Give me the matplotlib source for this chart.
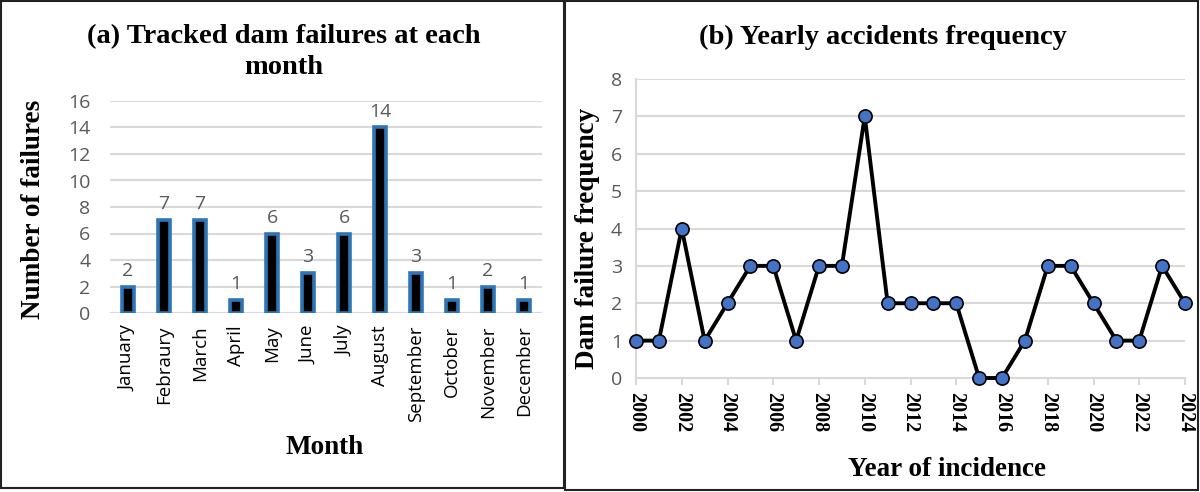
import matplotlib
matplotlib.use("Agg")
import matplotlib.pyplot as plt
from matplotlib.patches import Rectangle

months = ["January", "Febraury", "March", "April", "May", "June", "July",
          "August", "September", "October", "November", "December"]
month_failures = [2, 7, 7, 1, 6, 3, 6, 14, 3, 1, 2, 1]

years = list(range(2000, 2025))
yearly_freq = [1, 1, 4, 1, 2, 3, 3, 1, 3, 3, 7, 2, 2, 2, 2, 0, 0, 1, 3, 3, 2, 1, 1, 3, 2]
year_ticks = list(range(2000, 2025, 2))

W, H = 1200, 492
fig = plt.figure(figsize=(12, 4.92), dpi=100)
fig.patch.set_facecolor("white")

serif = ["Liberation Serif", "DejaVu Serif"]
sans = ["Open Sans", "DejaVu Sans"]
gray_txt = "#595959"
grid_c = "#d9d9d9"

def fx(px):
    return px / W

def fy(py):
    return 1 - py / H

# Panel borders
fig.add_artist(Rectangle((fx(1), fy(488)), fx(564) - fx(1), fy(1) - fy(488),
                         transform=fig.transFigure, fill=False, edgecolor="#222222", lw=1.5))
fig.add_artist(Rectangle((fx(565), fy(490)), fx(1198) - fx(565), fy(1) - fy(490),
                         transform=fig.transFigure, fill=False, edgecolor="#222222", lw=1.5))

# ---- Left panel: bar chart ----
ax1 = fig.add_axes([fx(110), fy(313), fx(542) - fx(110), fy(101) - fy(313)])
x = list(range(len(months)))
ax1.bar(x, month_failures, width=0.36, color="black", edgecolor="#2E75B6",
        linewidth=2.6, zorder=3)
ax1.set_xlim(-0.5, 11.5)
ax1.set_ylim(0, 16)
ax1.set_yticks(range(0, 17, 2))
ax1.yaxis.grid(True, color=grid_c, lw=1.5, zorder=0)
for s in ax1.spines.values():
    s.set_visible(False)
ax1.axhline(0, color=grid_c, lw=1.5, zorder=1)
ax1.tick_params(axis="both", length=0)
ax1.set_yticklabels([str(v) for v in range(0, 17, 2)], family=sans, fontsize=14, color=gray_txt)
ax1.tick_params(axis="y", pad=14)
ax1.set_xticks(x)
ax1.set_xticklabels(months, rotation=90, family=sans, fontsize=13.5, color="black",
                    fontweight="medium")
ax1.tick_params(axis="x", pad=9)
for xi, v in zip(x, month_failures):
    ax1.annotate(str(v), (xi, v), xytext=(0, 5), textcoords="offset points",
                 ha="center", va="bottom", family=sans, fontsize=14, color=gray_txt)
fig.text(fx(284), fy(37), "(a) Tracked dam failures at each", ha="center", va="center",
         family=serif, fontsize=20.5, fontweight="bold")
fig.text(fx(284), fy(67), "month", ha="center", va="center",
         family=serif, fontsize=20.5, fontweight="bold")
fig.text(fx(34), fy(209), "Number of failures", rotation=90, ha="center", va="center",
         family=serif, fontsize=19.5, fontweight="bold")
fig.text(fx(325), fy(448), "Month", ha="center", va="center",
         family=serif, fontsize=19.5, fontweight="bold")

# ---- Right panel: line chart ----
ax2 = fig.add_axes([fx(636), fy(378), fx(1185) - fx(636), fy(79) - fy(378)])
ax2.plot(years, yearly_freq, color="black", lw=2.8, marker="o", markersize=9.5,
         markerfacecolor="#4472C4", markeredgecolor="black", markeredgewidth=1.2,
         zorder=3, clip_on=False)
ax2.set_xlim(2000, 2024)
ax2.set_ylim(0, 8)
ax2.set_yticks(range(0, 9))
ax2.yaxis.grid(True, color=grid_c, lw=1.5, zorder=0)
ax2.spines["top"].set_visible(False)
ax2.spines["right"].set_visible(False)
ax2.spines["left"].set_color(grid_c)
ax2.spines["bottom"].set_color(grid_c)
ax2.spines["left"].set_linewidth(1.5)
ax2.spines["bottom"].set_linewidth(1.5)
ax2.tick_params(axis="y", length=0, pad=10)
ax2.set_yticklabels([str(v) for v in range(0, 9)], family=sans, fontsize=14, color=gray_txt)
ax2.set_xticks(year_ticks)
ax2.set_xticklabels([str(y) for y in year_ticks], rotation=270, family=serif,
                    fontsize=14.5, fontweight="bold", color="black")
ax2.tick_params(axis="x", length=5, color=grid_c, width=1.5, direction="out", pad=5)
fig.text(fx(883), fy(37), "(b) Yearly accidents frequency", ha="center", va="center",
         family=serif, fontsize=20.5, fontweight="bold")
fig.text(fx(588), fy(238), "Dam failure frequency", rotation=90, ha="center", va="center",
         family=serif, fontsize=19.5, fontweight="bold")
fig.text(fx(947), fy(469), "Year of incidence", ha="center", va="center",
         family=serif, fontsize=19.5, fontweight="bold")

fig.savefig("out.png", dpi=100, facecolor="white")
